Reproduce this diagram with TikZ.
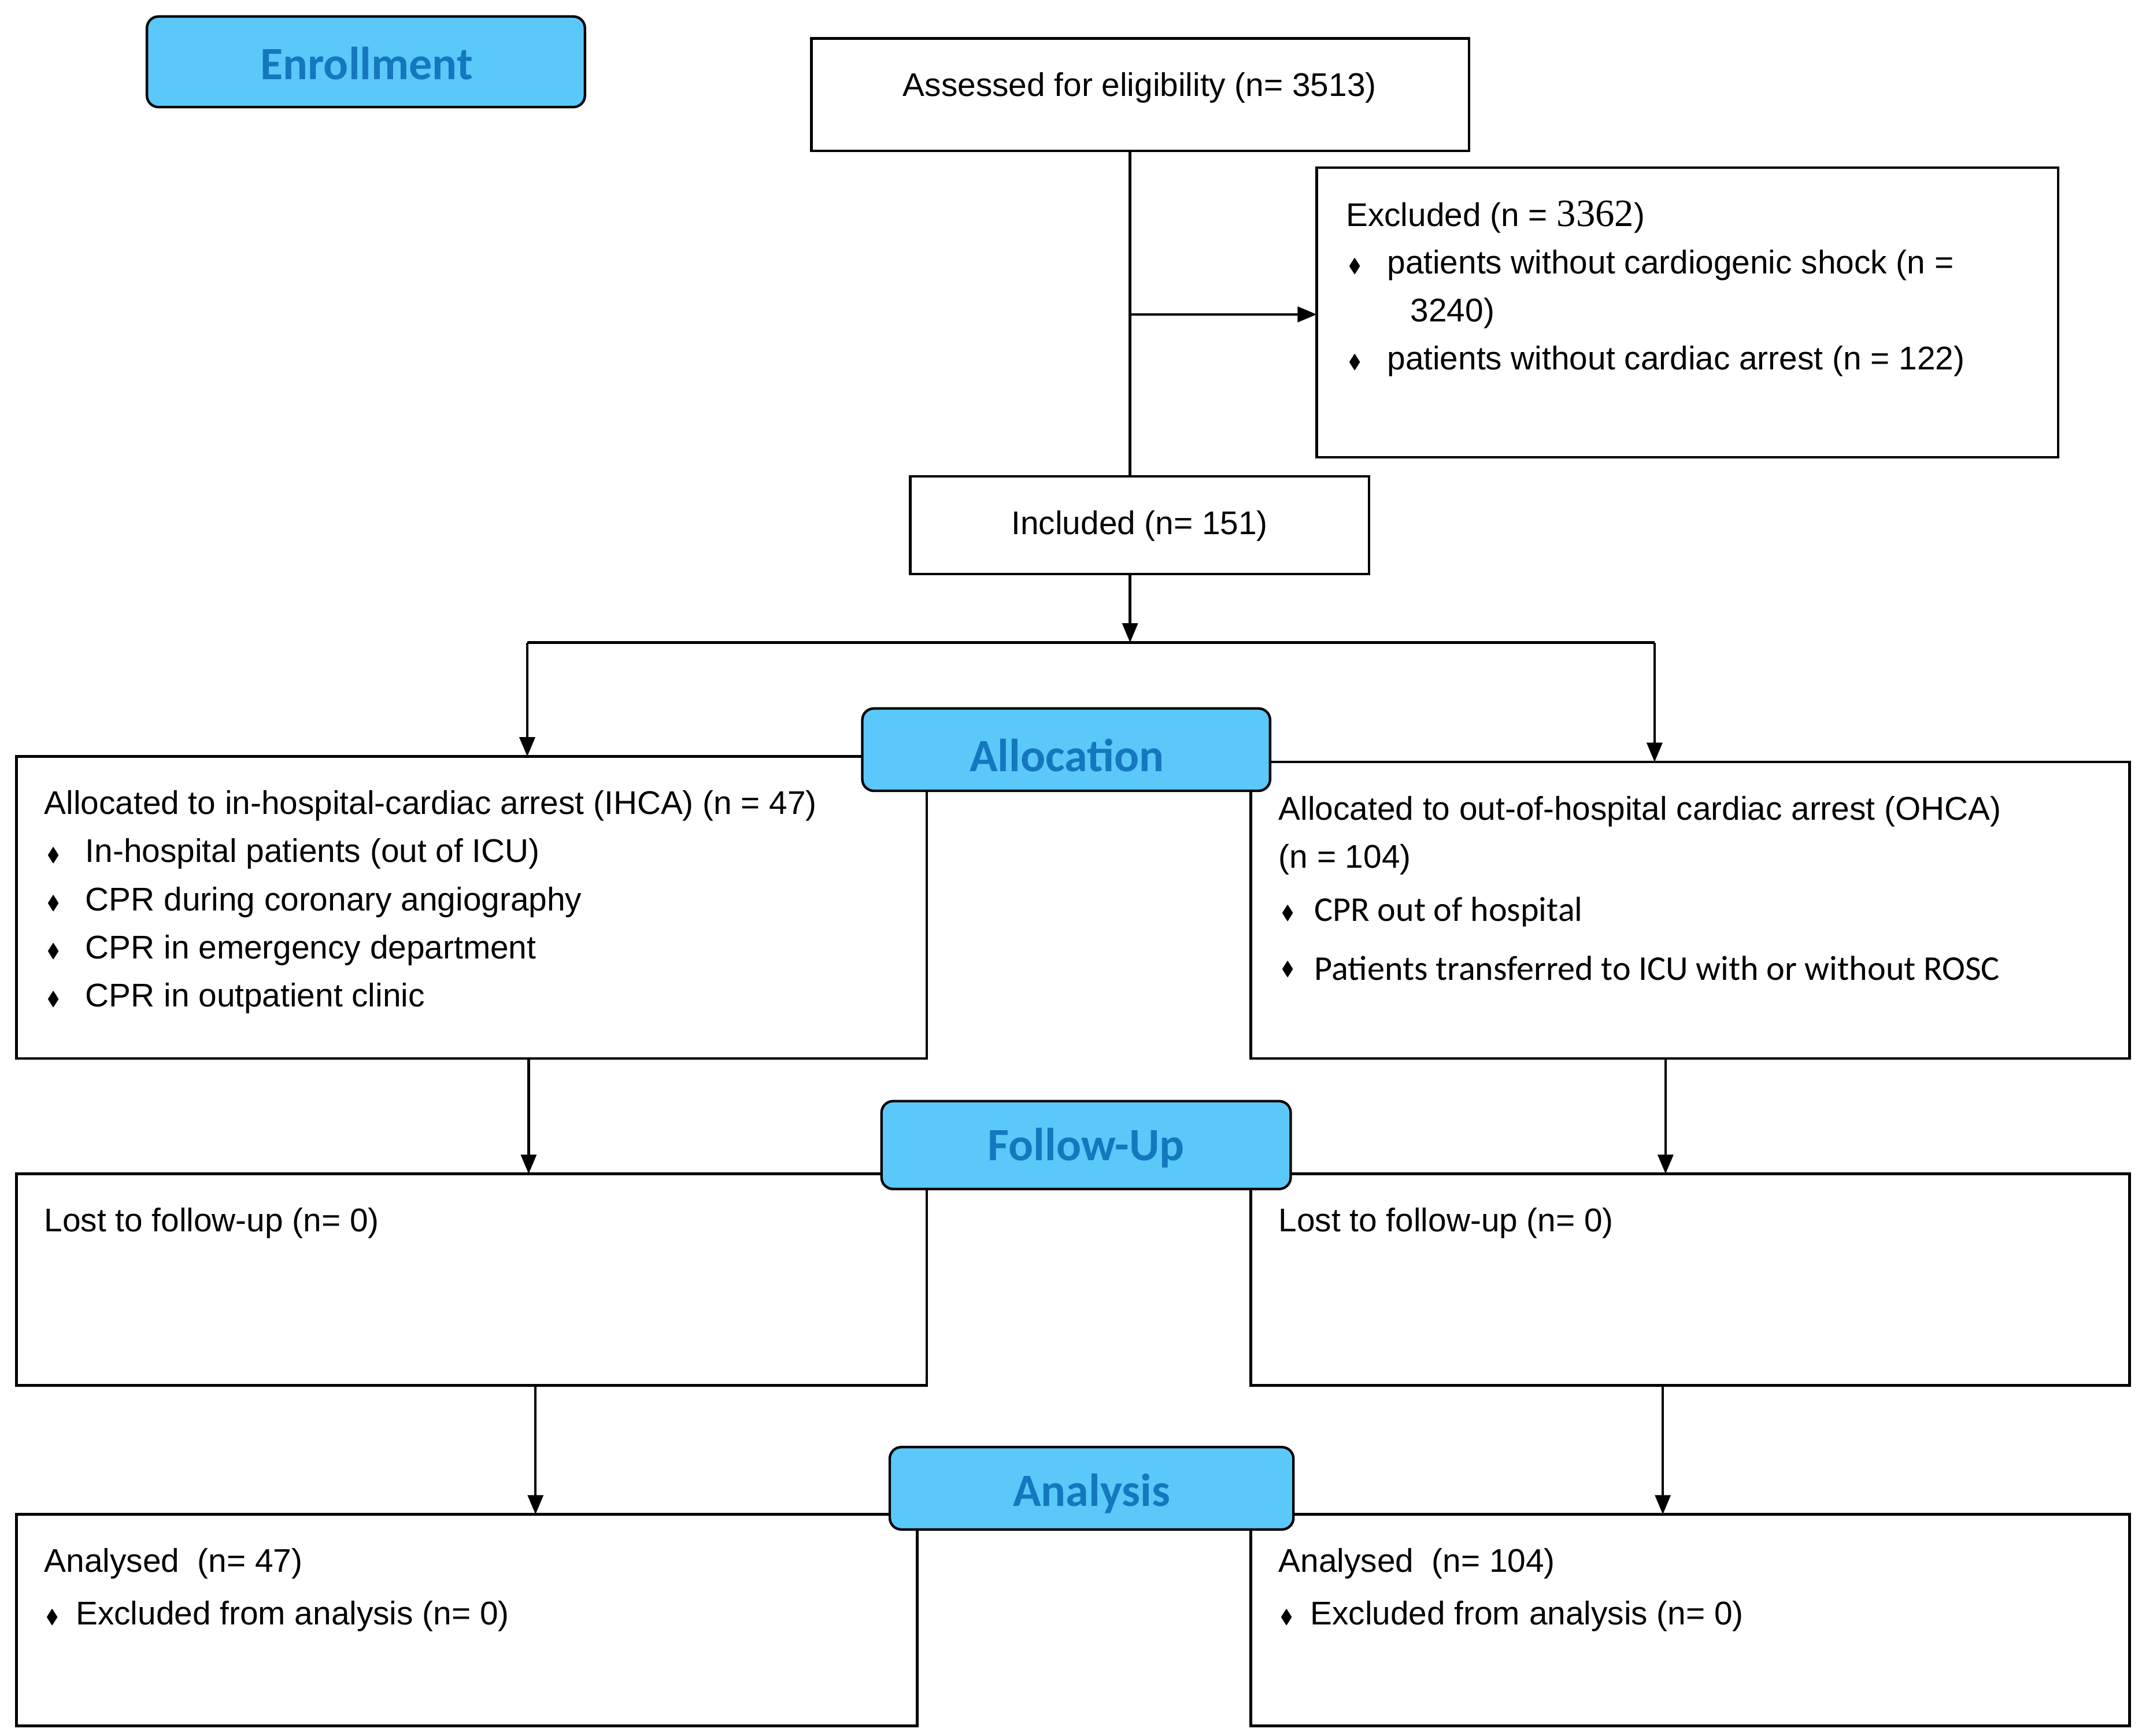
\documentclass[tikz,border=0pt]{standalone}
\usepackage{fontspec}
\usepackage{amssymb}
\setmainfont{Liberation Sans}
\newfontfamily\calib{Carlito}
\usetikzlibrary{arrows.meta}
\newcommand{\bul}{{\fontsize{10}{10}\selectfont$\blacklozenge$}}
\begin{document}
\begin{tikzpicture}[x=0.025cm,y=-0.025cm,
  box/.style={draw,line width=1.3pt},
  lab/.style={draw,line width=1.3pt,rounded corners=6pt,fill=cyan!55!blue!35!white,fill={rgb,255:red,91;green,200;blue,250}},
  labt/.style={font=\calib\bfseries\fontsize{24}{28}\selectfont,text={rgb,255:red,20;green,120;blue,190}},
  t/.style={anchor=west,inner sep=0pt,font=\fontsize{17}{21}\selectfont},
  tc/.style={t,font=\calib\fontsize{18}{21}\selectfont},
  ar/.style={line width=1.3pt,-{Triangle[length=10pt,width=8pt]}},
  ln/.style={line width=1.3pt}]
\useasboundingbox (0,0) rectangle (1560,1264);
% boxes
\draw[box] (591,28) rectangle (1070,110);
\draw[box] (959,122) rectangle (1499,333);
\draw[box] (663,347) rectangle (997,418);
\draw[box] (12,551) rectangle (675,771);
\draw[box] (911,555) rectangle (1551,771);
\draw[box] (12,855) rectangle (675,1009);
\draw[box] (911,855) rectangle (1551,1009);
\draw[box] (12,1103) rectangle (668,1257);
\draw[box] (911,1103) rectangle (1551,1257);
% coordinates
\coordinate (a) at (823,110);
\coordinate (b) at (823,347);
\coordinate (bx) at (823,229);
\coordinate (ex) at (959,229);
\coordinate (i) at (823,418);
\coordinate (j) at (823,468);
\coordinate (jl) at (384,468);
\coordinate (jr) at (1205,468);
\coordinate (al) at (384,551);
\coordinate (ar) at (1205,555);
\coordinate (l1) at (385,771); \coordinate (l2) at (385,855);
\coordinate (r1) at (1213,771); \coordinate (r2) at (1213,855);
\coordinate (l3) at (390,1009); \coordinate (l4) at (390,1103);
\coordinate (r3) at (1211,1009); \coordinate (r4) at (1211,1103);
\draw[ln] (a) -- (b);
\draw[ar] (bx) -- (ex);
\draw[ar] (i) -- (j);
\draw[ln] (jl) -- (jr);
\draw[ar] (jl) -- (al);
\draw[ar] (jr) -- (ar);
\draw[ar] (l1) -- (l2);
\draw[ar] (r1) -- (r2);
\draw[ar] (l3) -- (l4);
\draw[ar] (r3) -- (r4);
% labels
\draw[lab] (107,12) rectangle (426,78); \node[labt] (en) at (267,46) {Enrollment};
\draw[lab] (628,516) rectangle (925,576); \node[labt] (alc) at (777,550) {Allocation};
\draw[lab] (642,802) rectangle (940,866); \node[labt] (fu) at (791,836) {Follow-Up};
\draw[lab] (648,1054) rectangle (942,1114); \node[labt] (an) at (795,1088) {Analysis};
% texts
\node[t,anchor=center] (as) at (830,64) {Assessed for eligibility (n= 3513)};
\node[t] (ex1) at (980,158) {Excluded (n = {\fontspec{Liberation Serif}\fontsize{20}{21}\selectfont 3362})};
\node[t] (exb1) at (982,194) {\bul};
\node[t] (ex2) at (1010,193) {patients without cardiogenic shock (n =};
\node[t] (ex3) at (1027,228) {3240)};
\node[t] (exb2) at (982,264) {\bul};
\node[t] (ex4) at (1010,263) {patients without cardiac arrest (n = 122)};
\node[t,anchor=center] (inc) at (830,383) {Included (n= 151)};
\node[t] (L0) at (32,587) {Allocated to in-hospital-cardiac arrest (IHCA) (n = 47)};
\node[t] (Lb1) at (34,623) {\bul}; \node[t] (L1) at (62,622) {In-hospital patients (out of ICU)};
\node[t] (Lb2) at (34,658) {\bul}; \node[t] (L2) at (62,657) {CPR during coronary angiography};
\node[t] (Lb3) at (34,693) {\bul}; \node[t] (L3) at (62,692) {CPR in emergency department};
\node[t] (Lb4) at (34,728) {\bul}; \node[t] (L4) at (62,727) {CPR in outpatient clinic};
\node[t] (R0) at (931,591) {Allocated to out-of-hospital cardiac arrest (OHCA)};
\node[t] (R0b) at (931,626) {(n = 104)};
\node[t] (Rb1) at (933,665) {\bul}; \node[tc] (R1) at (957,664) {CPR out of hospital};
\node[t] (Rb2) at (933,706) {\bul}; \node[tc] (R2) at (957,705) {Patients transferred to ICU with or without ROSC};
\node[t] (F1) at (32,891) {Lost to follow-up (n= 0)};
\node[t] (F2) at (931,891) {Lost to follow-up (n= 0)};
\node[t] (A1) at (32,1139) {Analysed\ \ (n= 47)};
\node[t] (Ab1) at (33,1178) {\bul}; \node[t] (A1b) at (55,1177) {Excluded from analysis (n= 0)};
\node[t] (A2) at (931,1139) {Analysed\ \ (n= 104)};
\node[t] (Ab2) at (932,1178) {\bul}; \node[t] (A2b) at (954,1177) {Excluded from analysis (n= 0)};
\end{tikzpicture}
\end{document}
